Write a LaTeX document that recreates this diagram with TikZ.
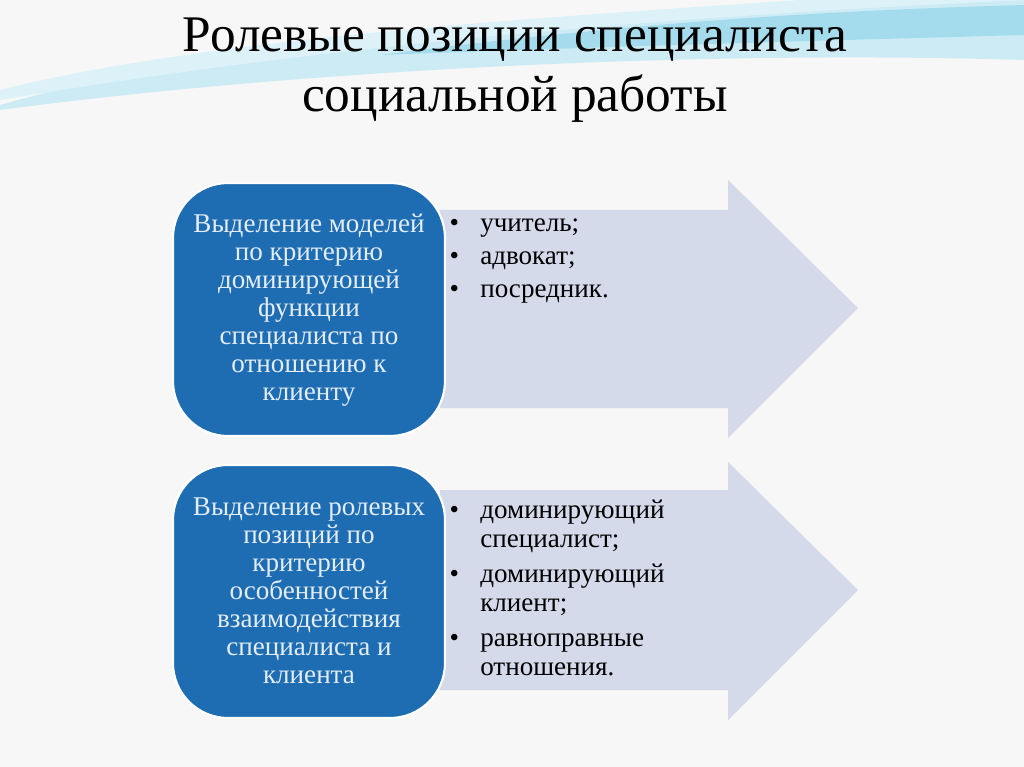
\documentclass[tikz,border=0pt]{standalone}
\usepackage{fontspec}
\setmainfont{Liberation Serif}
\definecolor{boxblue}{HTML}{1E6DB3}
\definecolor{arrowgray}{HTML}{D4DAEA}
\definecolor{wave}{HTML}{8FD3E8}
\begin{document}
\begin{tikzpicture}[x=0.01cm,y=-0.01cm,
        rolebox/.style = {draw=white, line width=0.6pt, fill=boxblue, rounded corners=0.55cm},
        boxtext/.style = {text=white!88!boxblue, font=\fontsize{7.7}{7.95}\selectfont, align=center},
        itemtext/.style = {font=\fontsize{7.7}{8.2}\selectfont, align=left, anchor=north west, inner sep=0pt},
    ]
    \useasboundingbox (0,0) rectangle (1024,767);
    \fill[gray!6] (0,0) rectangle (1024,767);

    % Top waves
    \fill[wave!45] (0,105) .. controls (300,20) and (700,10) .. (1024,0) -- (1024,60) .. controls (700,50) and (300,70) .. (0,110) -- cycle;
    \fill[wave!80] (380,55) .. controls (650,20) and (850,10) .. (1024,5) -- (1024,35) .. controls (850,40) and (650,45) .. (380,55) -- cycle;
    \fill[wave!30] (0,90) .. controls (200,40) and (500,20) .. (800,0) -- (1024,0) .. controls (600,20) and (300,50) .. (0,100) -- cycle;

    % Title
    \node[font=\fontsize{14.6}{17}\selectfont, align=center] (title) at (515,70) {Ролевые позиции специалиста\\социальной работы};

    % Arrows
    \fill[arrowgray] (440,210) -- (728,210) -- (728,180) -- (858,308) -- (728,438) -- (728,408) -- (440,408) -- cycle;
    \fill[arrowgray] (440,490) -- (728,490) -- (728,462) -- (858,590) -- (728,720) -- (728,690) -- (440,690) -- cycle;

    % Left boxes
    \draw[rolebox] (173,183) rectangle (445,436);
    \draw[rolebox] (173,465) rectangle (445,718);
    \node[boxtext] (model) at (309,310) {Выделение моделей\\по критерию\\доминирующей\\функции\\специалиста по\\отношению к\\клиенту};
    \node[boxtext] (role) at (309,591) {Выделение ролевых\\позиций по\\критерию\\особенностей\\взаимодействия\\специалиста и\\клиента};

    % Items
    \foreach \y/\t in {218/учитель;, 251/адвокат;, 284/посредник.}
        \node[itemtext] (item\y) at (449,\y) {•\hspace{6pt}\t};
    \foreach \y/\t in {498/{доминирующий\\специалист;}, 562/{доминирующий\\клиент;}, 626/{равноправные\\отношения.}}
        \node[itemtext] (item\y) at (449,\y) {•\hspace{6pt}\begin{tabular}[t]{@{}l@{}}\t\end{tabular}};
\end{tikzpicture}
\end{document}
